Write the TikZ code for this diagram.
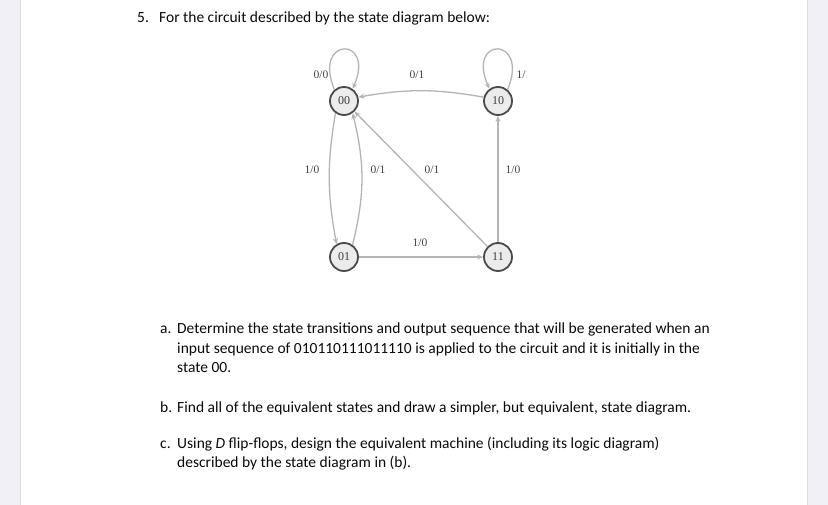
\documentclass[tikz,border=0pt]{standalone}
\usepackage{fontspec}
\setmainfont{Carlito}
\newfontfamily\diagfont{Liberation Serif}
\usetikzlibrary{arrows.meta}
\definecolor{sidegray}{RGB}{240,240,246}
\definecolor{sideline}{RGB}{218,218,224}
\definecolor{edgegray}{RGB}{180,180,180}
\definecolor{stategray}{RGB}{75,75,75}
\definecolor{statefill}{RGB}{236,236,236}
\definecolor{statetext}{RGB}{60,60,60}
\definecolor{lbltext}{RGB}{65,65,65}
\definecolor{bodytext}{RGB}{10,10,10}
\tikzset{
  state/.style={circle, draw=stategray, line width=1.8pt, fill=statefill,
    minimum size=28pt, inner sep=0pt, text=statetext,
    font=\diagfont\fontsize{12}{14}\selectfont},
  arr/.style={draw=edgegray, line width=1.3pt, -{Stealth[length=6pt,width=5pt]}},
  lbl/.style={text=lbltext, inner sep=1pt, font=\diagfont\fontsize{11.5}{13}\selectfont},
  txt/.style={anchor=base west, inner sep=0pt, text=bodytext, font=\fontsize{15.5}{19}\selectfont}
}
\begin{document}
\begin{tikzpicture}[x=1pt,y=1pt]
\useasboundingbox (0,0) rectangle (828,-505);
\fill[white] (0,0) rectangle (828,-505);
\fill[sidegray] (0,0) rectangle (20,-505);
\fill[sidegray] (808,0) rectangle (828,-505);
\draw[sideline, line width=1pt] (20.5,0) -- (20.5,-505);
\draw[sideline, line width=1pt] (807.5,0) -- (807.5,-505);

% states
\node[state] (n00) at (344,-101) {00};
\node[state] (n10) at (498,-101) {10};
\node[state] (n01) at (344,-257) {01};
\node[state] (n11) at (498,-257) {11};

% transitions
\draw[arr] (n00.130) .. controls (312,-36) and (376,-36) .. (n00.55);
\draw[arr] (n10.50) .. controls (530,-36) and (466,-36) .. (n10.125);
\draw[arr] (n10.165) to[bend right=10] (n00.15);
\draw[arr] (n00.235) to[bend right=10] (n01.120);
\draw[arr] (n01.55) to[bend right=14] (n00.-55);
\draw[arr] (n11.135) -- (n00.-45);
\draw[arr] (n11) -- (n10);
\draw[arr] (n01) -- (n11);

% labels
\node[lbl] (l00) at (321,-75) {0/0};
\node[lbl] (l10a) at (417,-75) {0/1};
\begin{scope}
\clip (500,-60) rectangle (526,-90);
\node[lbl] (l10b) at (524,-75) {1/1};
\end{scope}
\node[lbl] (l0001) at (312,-170) {1/0};
\node[lbl] (l0100) at (378,-170) {0/1};
\node[lbl] (l1100) at (432,-170) {0/1};
\node[lbl] (l1110) at (513,-170) {1/0};
\node[lbl] (l0111) at (420,-243) {1/0};

% text
\node[txt] (t5) at (137,-23) {5.};
\node[txt] (t0) at (159,-23) {For the circuit described by the state diagram below:};
\node[txt] (ta) at (160,-334) {a.};
\node[txt] (ta1) at (177,-334) {Determine the state transitions and output sequence that will be generated when an};
\node[txt] (ta2) at (177,-353) {input sequence of 010110111011110 is applied to the circuit and it is initially in the};
\node[txt] (ta3) at (177,-372) {state 00.};
\node[txt] (tb) at (160,-412) {b.};
\node[txt] (tb1) at (177,-412) {Find all of the equivalent states and draw a simpler, but equivalent, state diagram.};
\node[txt] (tc) at (160,-448) {c.};
\node[txt] (tc1) at (177,-448) {Using \textit{D} flip-flops, design the equivalent machine (including its logic diagram)};
\node[txt] (tc2) at (177,-467) {described by the state diagram in (b).};
\end{tikzpicture}
\end{document}
